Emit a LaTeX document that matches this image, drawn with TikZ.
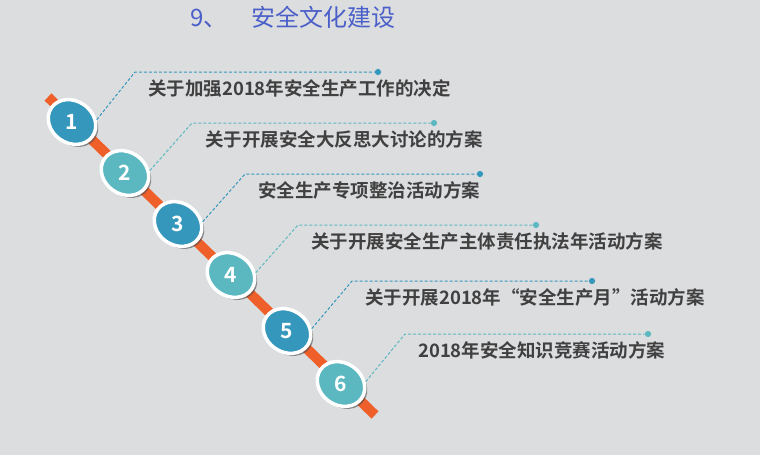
\documentclass[tikz,border=0pt]{standalone}
\usepackage{fontspec}
\newfontfamily\cjk{Noto Sans CJK SC}
\newfontfamily\cjkb{Noto Sans CJK SC Bold}
\usetikzlibrary{shadows,shapes.geometric}
\definecolor{bg}{HTML}{DCDDDF}
\definecolor{cb}{HTML}{3597BC}
\definecolor{ct}{HTML}{5BB8C0}
\definecolor{bar}{HTML}{EE5F2A}
\definecolor{ttl}{HTML}{4A5FC8}
\definecolor{txt}{HTML}{404040}
\begin{document}
\begin{tikzpicture}[x=1pt,y=-1pt,
  disc/.style={ellipse,minimum width=50,minimum height=42,inner sep=0,draw=white,line width=3.5pt,rotate=-35,
    text=white,font=\cjkb\fontsize{21}{21}\selectfont,drop shadow={shadow xshift=2.5pt,shadow yshift=-2.5pt,opacity=0.6,fill=black!70}},
  lead/.style={line width=1pt,dash pattern=on 3pt off 2pt},
  tip/.style={circle,fill,inner sep=2.2pt},
  lbl/.style={anchor=west,text=txt,font=\cjkb\fontsize{18.5}{18.5}\selectfont,inner sep=0}]
\fill[bg] (0,0) rectangle (760,455);
\useasboundingbox (0,0) rectangle (760,455);
\node[text=ttl,font=\cjk\fontsize{24}{24}\selectfont,anchor=west,inner sep=0] (title) at (190,17) {9、\quad 安全文化建设};
\coordinate (b0) at (48,97); \coordinate (b1) at (375,415);
\draw[bar,line width=10pt] (b0) -- (b1);
\foreach \i/\x/\y/\c/\lx/\ex/\t in {
 1/72/122/cb/135/378/关于加强2018年安全生产工作的决定,
 2/125/173/ct/192/434/关于开展安全大反思大讨论的方案,
 3/178/224/cb/245/480/安全生产专项整治活动方案,
 4/231/275/ct/298/536/关于开展安全生产主体责任执法年活动方案,
 5/287/331/cb/352/592/关于开展2018年“安全生产月”活动方案,
 6/341/384/ct/405/648/2018年安全知识竞赛活动方案}{
  \node[disc,fill=\c] (n\i) at (\x,\y) {\rotatebox{35}{\i}};
  \coordinate (k\i) at (\lx,\y-50);
  \node[tip,\c,fill=\c] (e\i) at (\ex,\y-50) {};
  \draw[lead,\c] (n\i.north east) -- (k\i) -- (e\i);
  \node[lbl] (t\i) at (\lx+13,\y-34) {\t};
}
\end{tikzpicture}
\end{document}
